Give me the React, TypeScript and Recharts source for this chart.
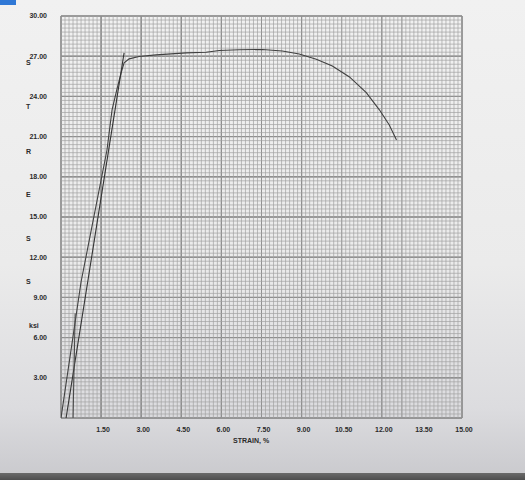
import { CartesianGrid, Line, LineChart, ReferenceLine, XAxis, YAxis } from "recharts";

// stress-strain test record, strain % vs stress ksi
const testStrain = [0, 0.75, 1.72, 1.91, 2.1, 2.25, 2.36, 2.55, 2.92, 3.56, 4.68, 5.43, 5.92, 6.67, 7.53, 8.28, 8.91, 9.55, 10.15, 10.79, 11.42, 11.91, 12.28, 12.55];
const testStress = [0, 10.15, 20.0, 23.0, 24.6, 25.75, 26.5, 26.8, 26.98, 27.1, 27.25, 27.3, 27.42, 27.48, 27.5, 27.39, 27.16, 26.77, 26.27, 25.45, 24.28, 23.0, 21.87, 20.75];

// modulus line drawn over the elastic part
const modulusStrain = [0.19, 2.36];
const modulusStress = [0, 27.25];

// short stroke near the origin
const markStrain = [0.45, 0.53];
const markStress = [0, 7.8];

const xTicks = [1.5, 3, 4.5, 6, 7.5, 9, 10.5, 12, 13.5, 15];
const yTicks = [3, 6, 9, 12, 15, 18, 21, 24, 27, 30];
const yLetters = ["S", "T", "R", "E", "S", "S"];

const toRows = (xs: number[], ys: number[]) => xs.map((x, i) => ({ strain: x, stress: ys[i] }));

const steps = (max: number, step: number) => {
  const out: number[] = [];
  for (let i = 0; i * step <= max + 1e-9; i++) out.push(+(i * step).toFixed(3));
  return out;
};

// graph paper: fine rule every 1/10 of a tick step, medium every half step
const xMinor = steps(15, 0.15);
const xMid = steps(15, 0.75);
const xMajor = steps(15, 1.5);
const yMinor = steps(30, 0.3);
const yMid = steps(30, 1.5);
const yMajor = steps(30, 3);

const tickStyle = {
  fontFamily: "Liberation Sans, Arial, sans-serif",
  fontSize: 7,
  fontWeight: 700,
  fill: "#2a2a2a",
};

const letterY = [64, 108, 153, 196, 240, 283];

export default function App() {
  return (
    <div
      style={{
        position: "fixed",
        left: 0,
        top: 0,
        width: 525,
        height: 480,
        overflow: "hidden",
        background: "linear-gradient(180deg, #f1f1f1 0%, #ebebeb 55%, #dcdcdf 85%, #c9c9cd 100%)",
        fontFamily: "Liberation Sans, Arial, sans-serif",
      }}
    >
      <div style={{ position: "absolute", left: 0, top: 0, width: 16, height: 5, background: "#2f78d6" }} />
      <div
        style={{
          position: "absolute",
          left: 0,
          top: 473,
          width: 525,
          height: 7,
          background: "linear-gradient(180deg, #6a6a6a 0%, #4e4e4e 100%)",
        }}
      />
      <LineChart
        width={525}
        height={480}
        margin={{ top: 16, right: 63, bottom: 0, left: 0 }}
        style={{ position: "absolute", left: 0, top: 0 }}
      >
        <CartesianGrid horizontalValues={yMid} verticalValues={xMid} stroke="#858585" strokeWidth={0.8} />
        <CartesianGrid horizontalValues={yMajor} verticalValues={xMajor} stroke="#6a6a6a" strokeWidth={1} />
        {xMinor.map((v) => (
          <ReferenceLine key={"x" + v} x={v} stroke="#a2a2a2" strokeWidth={0.7} />
        ))}
        {yMinor.map((v) => (
          <ReferenceLine key={"y" + v} y={v} stroke="#a2a2a2" strokeWidth={0.7} />
        ))}
        <XAxis
          type="number"
          dataKey="strain"
          domain={[0, 15]}
          ticks={xTicks}
          tickFormatter={(v: number) => v.toFixed(2)}
          tick={{ ...tickStyle, dx: 2 }}
          tickLine={false}
          axisLine={false}
          tickMargin={3}
          height={62}
          allowDataOverflow
        />
        <YAxis
          type="number"
          dataKey="stress"
          domain={[0, 30]}
          ticks={yTicks}
          tickFormatter={(v: number) => v.toFixed(2)}
          tick={tickStyle}
          tickLine={false}
          axisLine={false}
          tickMargin={8}
          width={61}
          allowDataOverflow
        />
        <Line
          data={toRows(testStrain, testStress)}
          dataKey="stress"
          type="linear"
          stroke="#404040"
          strokeWidth={1.1}
          dot={false}
          isAnimationActive={false}
        />
        <Line
          data={toRows(modulusStrain, modulusStress)}
          dataKey="stress"
          type="linear"
          stroke="#333"
          strokeWidth={1.1}
          dot={false}
          isAnimationActive={false}
        />
        <Line
          data={toRows(markStrain, markStress)}
          dataKey="stress"
          type="linear"
          stroke="#4a4a4a"
          strokeWidth={1.1}
          dot={false}
          isAnimationActive={false}
        />
      </LineChart>
      {yLetters.map((l, i) => (
        <div
          key={i}
          style={{
            position: "absolute",
            left: 26,
            top: letterY[i] - 5,
            fontSize: 7,
            fontWeight: 700,
            color: "#2a2a2a",
          }}
        >
          {l}
        </div>
      ))}
      <div style={{ position: "absolute", left: 29, top: 322, fontSize: 7, fontWeight: 700, color: "#2a2a2a" }}>
        ksi
      </div>
      <div
        style={{
          position: "absolute",
          left: 233,
          top: 437,
          fontSize: 7,
          fontWeight: 700,
          color: "#2a2a2a",
        }}
      >
        STRAIN, %
      </div>
    </div>
  );
}
